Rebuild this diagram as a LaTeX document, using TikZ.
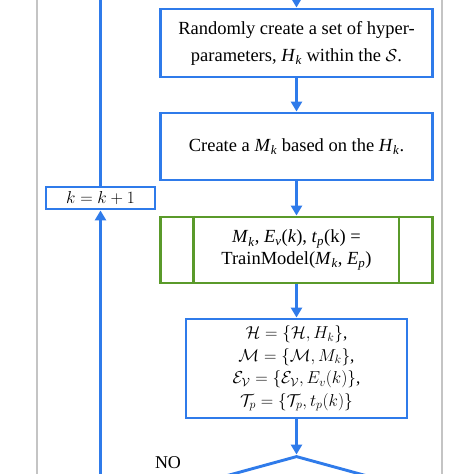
\documentclass[tikz,border=0pt]{standalone}
\usepackage{fontspec}
\setmainfont{Liberation Serif}
\usetikzlibrary{arrows.meta,shapes.geometric}
\definecolor{fblue}{HTML}{2F7BEA}
\definecolor{fgreen}{HTML}{5A9A2A}
\definecolor{fgray}{HTML}{C4C4C4}
\newcommand{\ik}[2]{\textit{#1}\textsubscript{\textit{#2}}}
\begin{document}
\begin{tikzpicture}[x=1pt,y=-1pt,
  box/.style={draw=fblue,line width=2.9pt,align=center,inner sep=0pt,font=\fontsize{18.5}{27}\selectfont},
  gbox/.style={draw=fgreen,line width=2.9pt,align=center,inner sep=0pt,font=\fontsize{18.5}{21.5}\selectfont},
  arr/.style={draw=fblue,line width=2.9pt,-{Triangle[width=11pt,length=10pt]}},
  ln/.style={draw=fblue,line width=2.9pt},
  lbl/.style={font=\fontsize{18}{20}\selectfont,inner sep=0pt}]
\useasboundingbox (0,0) rectangle (474,474);
\clip (0,0) rectangle (474,474);
\draw[fgray,line width=2.2pt] (37,-5) -- (37,480) (442,-5) -- (442,480);
\node[box,minimum width=272pt,minimum height=68pt] (b1) at (296.5,43)
  {Randomly create a set of hyper-\\parameters, \ik{H}{k} within the $\mathcal{S}$.};
\node[box,minimum width=272pt,minimum height=67pt] (b2) at (296.5,146.5)
  {Create a \ik{M}{k} based on the \ik{H}{k}.};
\node[box,minimum width=109pt,minimum height=22pt,font=\fontsize{19}{22}\selectfont] (k) at (100.5,198)
  {$k=k+1$};
\node[gbox,minimum width=272pt,minimum height=66pt] (tm) at (296.5,250)
  {\ik{M}{k}, \ik{E}{v}(\textit{k}), \ik{t}{p}(k) =\\TrainModel(\ik{M}{k}, \ik{E}{p})};
\draw[fgreen,line width=2.9pt] ([xshift=34pt]tm.north west) -- ([xshift=34pt]tm.south west)
  ([xshift=-35pt]tm.north east) -- ([xshift=-35pt]tm.south east);
\node[box,minimum width=221pt,minimum height=99pt,font=\fontsize{17.2}{22.5}\selectfont] (b4) at (296.5,368.5)
  {$\mathcal{H}=\{\mathcal{H},H_k\}$,\\
   $\mathcal{M}=\{\mathcal{M},M_k\}$,\\
   $\mathcal{E}_{\mathcal{V}}=\{\mathcal{E}_{\mathcal{V}},E_v(k)\}$,\\
   $\mathcal{T}_p=\{\mathcal{T}_p,t_p(k)\}$};
\node[draw=fblue,line width=2.9pt,diamond,aspect=3.6,minimum width=216pt,minimum height=60pt,inner sep=0pt] (dec) at (296.5,486) {};
\node[lbl] (no) at (168,463) {NO};
\coordinate (top) at (296.5,-3);
\coordinate (lt) at (100.5,-3);
\coordinate (lb) at (100.5,480);
\draw[arr] (top) -- (b1.north);
\draw[arr] (b1.south) -- (b2.north);
\draw[arr] (b2.south) -- (tm.north);
\draw[arr] (tm.south) -- (b4.north);
\draw[arr] (b4.south) -- (dec.north);
\draw[ln] (k.north) -- (lt);
\draw[arr] (lb) -- (k.south);
\end{tikzpicture}
\end{document}
